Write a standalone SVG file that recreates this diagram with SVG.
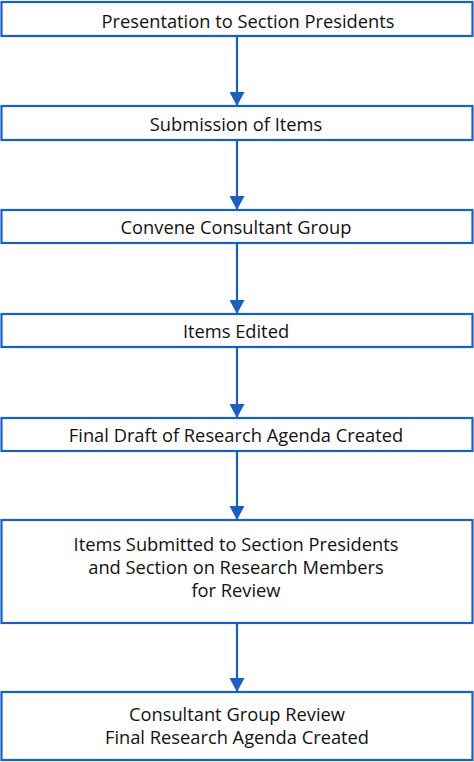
<svg xmlns="http://www.w3.org/2000/svg" width="474" height="762" viewBox="0 0 474 762">
<style>
.box{fill:#fff;stroke:#1a5fc4;stroke-width:2.2}
.t{font-family:"Open Sans","Noto Sans",sans-serif;font-size:18.3px;fill:#111;text-anchor:middle}
.c{stroke:#1a5fc4;stroke-width:2.2;fill:none}
</style>
<defs>
<marker id="ah" viewBox="0 0 14 15" refX="14" refY="7.5" markerWidth="14" markerHeight="15" markerUnits="userSpaceOnUse" orient="auto">
<path d="M0,0 L14,7.5 L0,15 Z" fill="#1a5fc4"/>
</marker>
</defs>
<rect width="474" height="762" fill="#fff"/>
<g id="connectors">
<line class="c" x1="237" y1="36" x2="237" y2="106" marker-end="url(#ah)"/>
<line class="c" x1="237" y1="140" x2="237" y2="210" marker-end="url(#ah)"/>
<line class="c" x1="237" y1="243" x2="237" y2="314" marker-end="url(#ah)"/>
<line class="c" x1="237" y1="347" x2="237" y2="418" marker-end="url(#ah)"/>
<line class="c" x1="237" y1="451" x2="237" y2="520" marker-end="url(#ah)"/>
<line class="c" x1="237" y1="623" x2="237" y2="692" marker-end="url(#ah)"/>
</g>
<g id="n1"><rect class="box" x="1.5" y="2" width="471" height="34"/><text class="t" x="248" y="27.5">Presentation to Section Presidents</text></g>
<g id="n2"><rect class="box" x="1.5" y="106" width="471" height="34"/><text class="t" x="236" y="130.5">Submission of Items</text></g>
<g id="n3"><rect class="box" x="1.5" y="210" width="471" height="33"/><text class="t" x="236" y="233.5">Convene Consultant Group</text></g>
<g id="n4"><rect class="box" x="1.5" y="314" width="471" height="33"/><text class="t" x="236" y="337.5">Items Edited</text></g>
<g id="n5"><rect class="box" x="1.5" y="418" width="471" height="33"/><text class="t" x="236" y="441.5">Final Draft of Research Agenda Created</text></g>
<g id="n6"><rect class="box" x="1.5" y="520" width="471" height="103"/><text class="t" x="236" y="551">Items Submitted to Section Presidents</text><text class="t" x="236" y="574">and Section on Research Members</text><text class="t" x="236" y="597">for Review</text></g>
<g id="n7"><rect class="box" x="1.5" y="692" width="471" height="68"/><text class="t" x="237" y="721">Consultant Group Review</text><text class="t" x="237" y="744">Final Research Agenda Created</text></g>
</svg>
